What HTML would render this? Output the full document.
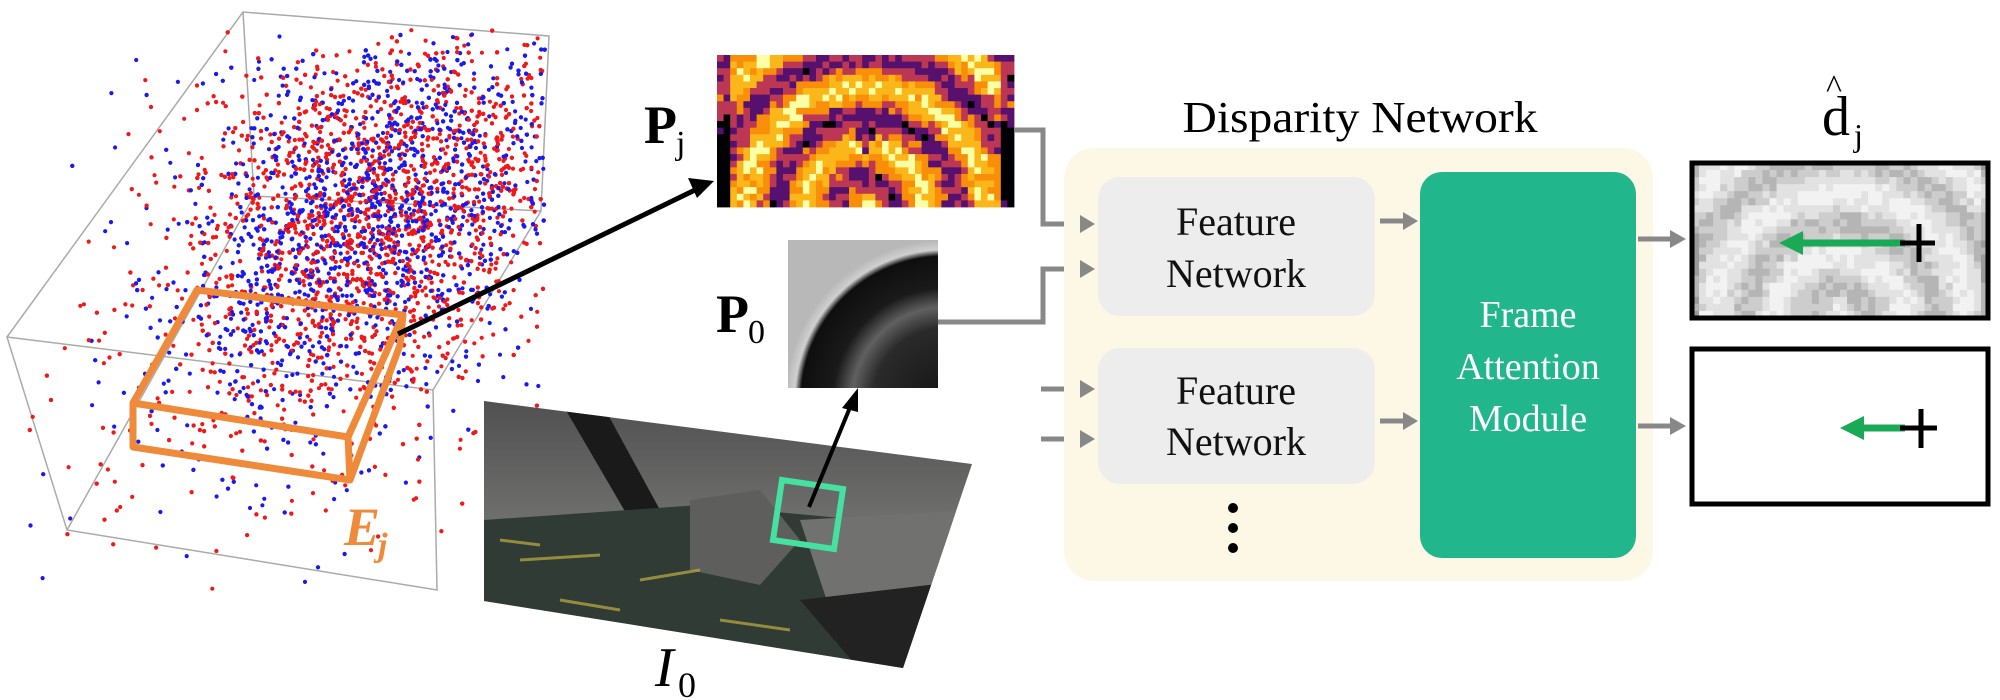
<!DOCTYPE html>
<html><head><meta charset="utf-8"><style>
html,body{margin:0;padding:0;background:#fff;}
svg{display:block;}
text{font-family:"Liberation Serif",serif;}
</style></head><body>
<svg id="s" width="2000" height="700" viewBox="0 0 2000 700" xmlns="http://www.w3.org/2000/svg">
<defs>
<radialGradient id="p0g" cx="945" cy="400" r="160" gradientUnits="userSpaceOnUse">
<stop offset="0" stop-color="#151515"/><stop offset="0.45" stop-color="#2a2a2a"/><stop offset="0.58" stop-color="#606060"/><stop offset="0.7" stop-color="#1a1a1a"/><stop offset="0.9" stop-color="#0e0e0e"/><stop offset="0.94" stop-color="#d0d0d0"/><stop offset="1" stop-color="#b8b8b8"/>
</radialGradient>
<clipPath id="photo"><polygon points="484,401 972,464 903,668 484,601"/></clipPath>
<linearGradient id="wall" x1="0" y1="0" x2="0" y2="1"><stop offset="0" stop-color="#505050"/><stop offset="1" stop-color="#959593"/></linearGradient>
</defs>
<g stroke="#aaa" stroke-width="1.5" fill="none">
<polyline points="7,337 243,12 549,36 541,211 433,390 7,337 67,530 437,590 433,390"/>
<line x1="243" y1="12" x2="254" y2="196"/>
<line x1="254" y1="196" x2="541" y2="211"/>
<line x1="67" y1="530" x2="254" y2="196"/>
</g>
<g id="dots"></g>
<g stroke="#ef8a3a" stroke-width="7" fill="none" stroke-linejoin="round">
<polygon points="197,290 403,315 348,437 133,403"/>
<polyline points="133,403 133,447 350,480 348,437"/>
<polyline points="403,315 400,345 350,480"/>
</g>
<text x="344" y="545" font-size="54" font-weight="bold" font-style="italic" fill="#ef8a3a">E</text>
<text x="378" y="556" font-size="34" font-weight="bold" font-style="italic" fill="#ef8a3a">j</text>
<line x1="398" y1="334" x2="695" y2="190" stroke="#000" stroke-width="5"/>
<polygon points="714,181 688,178 697,198" fill="#000"/>
<text x="644" y="143" font-size="54" font-weight="bold">P</text>
<text x="676" y="154" font-size="34">j</text>
<g id="heat"></g>
<rect x="788" y="240" width="150" height="148" fill="url(#p0g)"/>
<text x="716" y="332" font-size="54" font-weight="bold">P</text>
<text x="748" y="343" font-size="34">0</text>
<g clip-path="url(#photo)">
<rect x="484" y="400" width="490" height="270" fill="url(#wall)"/>
<polygon points="560,400 600,400 660,510 630,520" fill="#1a1a1a"/>
<polygon points="484,520 700,505 972,530 972,670 484,670" fill="#2f3b34"/>
<polygon points="690,500 760,490 800,540 760,585 690,570" fill="#5e5e5c"/>
<polygon points="800,520 972,510 972,600 830,610" fill="#717170"/>
<polygon points="800,600 972,580 972,670 860,670" fill="#222"/>
<g stroke="#b0a040" stroke-width="3" opacity="0.8">
<line x1="520" y1="560" x2="600" y2="555"/><line x1="640" y1="580" x2="700" y2="570"/><line x1="560" y1="600" x2="620" y2="610"/><line x1="720" y1="620" x2="790" y2="630"/><line x1="500" y1="540" x2="540" y2="545"/><line x1="650" y1="640" x2="720" y2="650"/>
</g>
</g>
<polygon points="782,480 843,489 834,549 773,540" fill="none" stroke="#46e0a0" stroke-width="6"/>
<line x1="809" y1="507" x2="851" y2="405" stroke="#000" stroke-width="4"/>
<polygon points="858,388 842,408 858,412" fill="#000"/>
<text x="655" y="686" font-size="56" font-style="italic">I</text>
<text x="678" y="697" font-size="36">0</text>
<g stroke="#888" stroke-width="5" fill="none">
<polyline points="1014,130 1043,130 1043,224 1082,224"/>
<polyline points="938,322 1043,322 1043,269 1082,269"/>
<line x1="1041" y1="389" x2="1082" y2="389"/>
<line x1="1041" y1="439" x2="1082" y2="439"/>
</g>
<rect x="1064" y="148" width="589" height="433" rx="30" fill="#fdf8e6"/>
<text x="1360" y="132" font-size="44" text-anchor="middle" textLength="355" lengthAdjust="spacingAndGlyphs">Disparity Network</text>
<rect x="1098" y="177" width="277" height="139" rx="22" fill="#ededed"/>
<rect x="1098" y="348" width="277" height="136" rx="22" fill="#ededed"/>
<g font-size="40" text-anchor="middle" fill="#111">
<text x="1236" y="235">Feature</text><text x="1236" y="287">Network</text>
<text x="1236" y="404">Feature</text><text x="1236" y="455">Network</text>
</g>
<rect x="1420" y="172" width="216" height="386" rx="22" fill="#22b68c"/>
<g font-size="38" text-anchor="middle" fill="#fff">
<text x="1528" y="327">Frame</text><text x="1528" y="379">Attention</text><text x="1528" y="431">Module</text>
</g>
<circle cx="1233" cy="508" r="5" fill="#000"/><circle cx="1233" cy="528" r="5" fill="#000"/><circle cx="1233" cy="548" r="5" fill="#000"/>
<g stroke="#888" stroke-width="5">
<line x1="1380" y1="221" x2="1405" y2="221"/><line x1="1380" y1="421" x2="1405" y2="421"/>
<line x1="1638" y1="239" x2="1672" y2="239"/><line x1="1638" y1="426" x2="1672" y2="426"/>
</g>
<g fill="#888">
<polygon points="1095,224 1080,215 1080,233"/><polygon points="1095,269 1080,260 1080,278"/>
<polygon points="1095,389 1080,380 1080,398"/><polygon points="1095,439 1080,430 1080,448"/>
<polygon points="1418,221 1403,212 1403,230"/><polygon points="1418,421 1403,412 1403,430"/>
<polygon points="1686,239 1670,230 1670,248"/><polygon points="1686,426 1670,417 1670,435"/>
</g>
<g id="gray"></g>
<rect x="1692" y="163" width="296" height="155" fill="none" stroke="#000" stroke-width="5"/>
<rect x="1692" y="349" width="296" height="155" fill="#fff" stroke="#000" stroke-width="5"/>
<text x="1822" y="135" font-size="56">d</text>
<text x="1826" y="98" font-size="34">^</text>
<text x="1854" y="146" font-size="32">j</text>
<line x1="1905" y1="243" x2="1800" y2="243" stroke="#1aaa55" stroke-width="7"/>
<polygon points="1779,243 1803,231 1803,255" fill="#1aaa55"/>
<line x1="1900" y1="243" x2="1935" y2="243" stroke="#000" stroke-width="5"/>
<line x1="1919" y1="224" x2="1919" y2="262" stroke="#000" stroke-width="5"/>
<line x1="1905" y1="428" x2="1860" y2="428" stroke="#1aaa55" stroke-width="7"/>
<polygon points="1840,428 1864,416 1864,440" fill="#1aaa55"/>
<line x1="1900" y1="428" x2="1937" y2="428" stroke="#000" stroke-width="5"/>
<line x1="1921" y1="409" x2="1921" y2="448" stroke="#000" stroke-width="5"/>
</svg>
<script>
(function(){
var seed=12345;function r(){seed=(seed*1103515245+12345)%2147483648;return seed/2147483648;}
function gs(){return (r()+r()+r()+r()-2)/0.58;}
var g=document.getElementById("dots"),h="";
for(var i=0;i<6000;i++){
 var x,y;
 if(i<4200){ y=200+gs()*85; x=390-(y-200)*0.35+gs()*85; }
 else { y=280+gs()*120; x=330-(y-280)*0.25+gs()*110; }
 if(y<30||y>590||x<25||x>545) continue;
 h+='<circle cx="'+x.toFixed(1)+'" cy="'+y.toFixed(1)+'" r="2.1" fill="'+(r()<0.55?'#f01818':'#1a1aee')+'"/>';
}
g.innerHTML=h;
var pal=["#000004","#56106e","#bb3754","#f98e09","#fbb61a","#fcffa4"];
var H=document.getElementById("heat"),s="";
var cw=297/45,ch=152/23;
for(var j=0;j<23;j++)for(var i=0;i<45;i++){
 var px=(i+0.5)*cw, py=(j+0.5)*ch;
 var dx=px-148.5, dy=152-py, rr=Math.sqrt(dx*dx+dy*dy);
 var v=Math.cos(rr/9.5)*1.6+2.8+(r()-0.5)*1.8;
 if(Math.abs(dx)<(152-py-55)*0.55 && py>70 && py<110) v-=2.5;
 if(Math.abs(dx)>135 && py>20) v-=2.2;
 var c=Math.max(0,Math.min(5,Math.round(v)));
 s+='<rect x="'+(717+i*cw).toFixed(2)+'" y="'+(55+j*ch).toFixed(2)+'" width="'+(cw+0.4).toFixed(2)+'" height="'+(ch+0.4).toFixed(2)+'" fill="'+pal[c]+'"/>';
}
H.innerHTML=s;
var G=document.getElementById("gray"),q="";
var gp=["#9a9a9a","#b5b5b5","#cdcdcd","#e2e2e2","#f2f2f2"];
var gw=296/42,gh=155/22;
for(var j=0;j<22;j++)for(var i=0;i<42;i++){
 var px=(i+0.5)*gw, py=(j+0.5)*gh;
 var dx=px-148, dy=155-py, rr=Math.sqrt(dx*dx+dy*dy);
 var v=Math.cos(rr/10)*1.2+2.6+(r()-0.5)*1.4;
 if(Math.abs(dx)>140) v-=1.5;
 var c=Math.max(0,Math.min(4,Math.round(v)));
 q+='<rect x="'+(1692+i*gw).toFixed(2)+'" y="'+(163+j*gh).toFixed(2)+'" width="'+(gw+0.4).toFixed(2)+'" height="'+(gh+0.4).toFixed(2)+'" fill="'+gp[c]+'"/>';
}
G.innerHTML=q;
})();
</script>
</body></html>
